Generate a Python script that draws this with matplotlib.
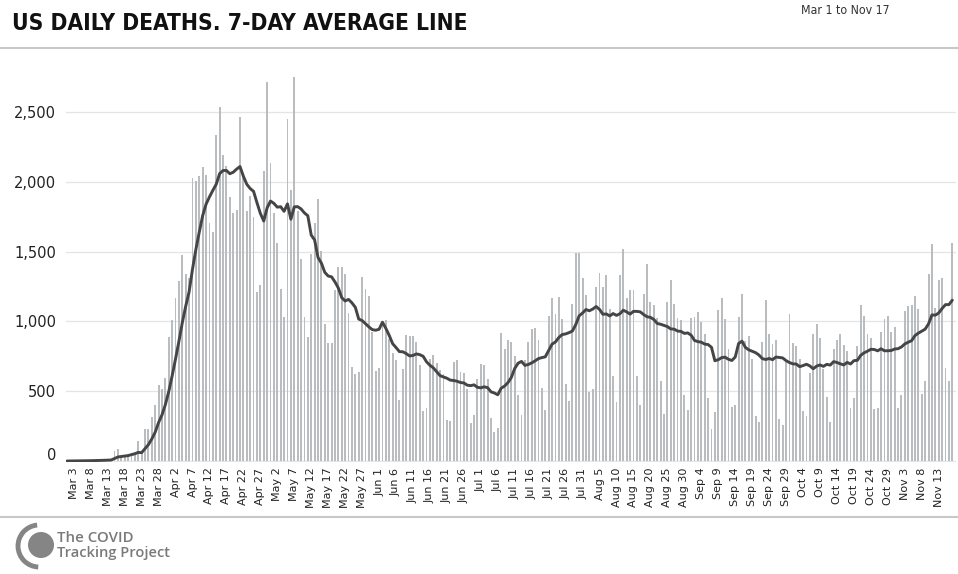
import numpy as np
import pandas as pd
import matplotlib
matplotlib.use("Agg")
import matplotlib.pyplot as plt
import matplotlib.transforms as mtransforms
from matplotlib.patches import Circle, Arc

# Daily US deaths, Mar 1 .. Nov 17 2020
deaths = [
    0, 1, 1, 2, 2, 3, 4, 3, 5, 6, 6, 8, 10, 12,
    75, 85, 31, 27, 31, 56, 60, 140, 75, 229, 229, 316, 398, 543,
    519, 592, 888, 1012, 1171, 1286, 1476, 1340, 1310, 2024, 2007, 2040,
    2107, 2052, 1702, 1640, 2333, 2536, 2195, 2112, 1888, 1774, 1798,
    2462, 2050, 1793, 1898, 1746, 1208, 1261, 2077, 2713, 2132, 1779,
    1559, 1230, 1029, 2452, 1941, 2753, 1790, 1445, 1029, 886, 1481,
    1702, 1874, 1505, 983, 845, 845, 1226, 1393, 1393, 1340, 1060,
    674, 621, 638, 1317, 1231, 1185, 921, 645, 667, 993, 1010, 874,
    774, 726, 440, 660, 902, 893, 898, 850, 690, 357, 381, 731, 762,
    702, 655, 626, 293, 286, 712, 724, 640, 633, 514, 269, 326, 590,
    698, 690, 590, 305, 210, 238, 919, 805, 864, 850, 755, 474, 326,
    721, 850, 945, 950, 869, 524, 364, 1041, 1166, 1055, 1174, 1017,
    555, 428, 1122, 1493, 1493, 1314, 1190, 493, 514, 1250, 1345, 1250,
    1333, 1088, 612, 424, 1331, 1521, 1167, 1224, 1224, 612, 400, 1195,
    1412, 1136, 1119, 1024, 571, 340, 1138, 1295, 1124, 1024, 1007, 471,
    364, 1024, 1029, 1067, 995, 912, 448, 226, 352, 1079, 1171, 1019,
    805, 388, 400, 1031, 1193, 860, 895, 733, 321, 281, 850, 1150, 910,
    836, 864, 302, 255, 714, 1055, 845, 826, 733, 357, 321, 631, 912,
    979, 883, 662, 460, 281, 805, 870, 910, 830, 788, 381, 448, 821,
    1121, 1036, 912, 883, 369, 383, 924, 1019, 1038, 924, 960, 383, 471,
    1074, 1107, 1114, 1179, 1086, 479, 574, 1340, 1555, 1098, 1293, 1312,
    669, 574, 1562,
]
days = pd.date_range("2020-03-01", "2020-11-17")
y_ticks = [0, 500, 1000, 1500, 2000, 2500]

W, H = 958, 574


def fx(px):
    return px / W


def fy(py):
    return 1 - py / H


def main():
    s = pd.Series(deaths, index=days)
    avg = s.rolling(7, min_periods=1).mean()
    idx = np.arange(len(s))

    fig = plt.figure(figsize=(W / 100, H / 100), dpi=100)

    # overlay in pixel coords for the rules and the logo
    ov = fig.add_axes([0, 0, 1, 1])
    ov.set_xlim(0, W)
    ov.set_ylim(H, 0)
    ov.axis("off")
    ov.plot([0, W], [48, 48], color="#c8c8c8", lw=1.5)
    ov.plot([0, W], [517, 517], color="#c8c8c8", lw=1.5)
    ov.add_patch(Circle((41, 545), 13, color="#858585", lw=0))
    ov.add_patch(Arc((39, 546), 42, 42, theta1=92, theta2=265,
                     color="#858585", lw=3.5))
    ov.text(57, 538, "The COVID", fontsize=10.8, color="#7a7a7a",
            family="Open Sans", weight="semibold", va="center")
    ov.text(57, 553, "Tracking Project", fontsize=10.5, color="#7a7a7a",
            family="Open Sans", weight="semibold", va="center")

    fig.text(fx(12), fy(24), "US DAILY DEATHS. 7-DAY AVERAGE LINE",
             fontsize=16.3, weight="bold", family="DejaVu Sans",
             stretch="condensed", va="center", ha="left", color="#111111")
    fig.text(fx(845), fy(10), "Mar 1 to Nov 17", fontsize=8.8,
             family="DejaVu Sans", stretch="condensed", color="#333333",
             va="center", ha="center")

    left, right, top, bottom = 66, 956, 60, 462
    ax = fig.add_axes([fx(left), fy(bottom), (right - left) / W,
                       (bottom - top) / H])
    ppu = 349 / 2500
    ax.set_ylim(-(bottom - 461) / ppu, (461 - top) / ppu)
    ax.set_xlim((left - 67) / 3.392, (right - 67) / 3.392)

    ax.bar(idx, s.values, width=0.55, color="#b9bdbf", zorder=2)
    ax.plot(idx, avg.values, color="#454545", lw=2.1, zorder=3,
            solid_capstyle="round", solid_joinstyle="round")

    ax.set_yticks(y_ticks)
    ax.set_yticklabels([f"{v:,}" for v in y_ticks], fontsize=10.5,
                       color="#222222")
    ax.grid(axis="y", color="#e4e4e4", lw=0.9, zorder=0)
    ax.set_axisbelow(True)

    tick_pos = idx[2::5]
    ax.set_xticks(tick_pos)
    ax.set_xticklabels([f"{d.strftime('%b')} {d.day}" for d in days[2::5]],
                       rotation=90, fontsize=8, color="#222222")
    ax.tick_params(axis="both", length=0)
    ax.tick_params(axis="x", pad=4)
    ax.tick_params(axis="y", pad=7)
    for sp in ax.spines.values():
        sp.set_visible(False)

    # the zero label sits a little above its line in the reference
    zero_lab = ax.yaxis.get_major_ticks()[0].label1
    zero_lab.set_transform(zero_lab.get_transform() +
                           mtransforms.ScaledTranslation(0, 7 / 100,
                                                         fig.dpi_scale_trans))

    fig.savefig("out.png", dpi=100)
    plt.close(fig)


if __name__ == "__main__":
    main()
